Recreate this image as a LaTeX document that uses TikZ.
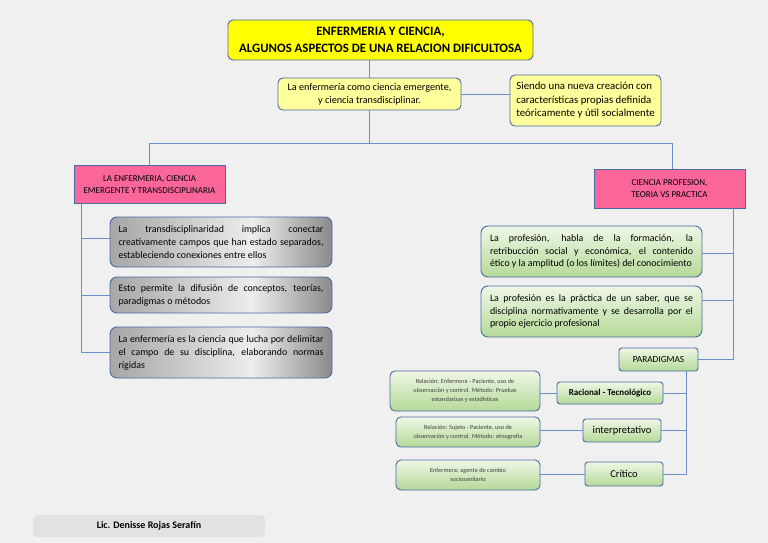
\documentclass[tikz,border=0pt]{standalone}
\usepackage{fontspec}
\setmainfont{Carlito}
\hyphenpenalty=10000
\exhyphenpenalty=10000
\definecolor{bgc}{HTML}{F0F0F0}
\definecolor{linec}{HTML}{6A90CC}
\definecolor{borderc}{HTML}{4A6AA5}
\definecolor{titlefill}{HTML}{FFFF00}
\definecolor{lightyellow}{HTML}{FFFF9C}
\definecolor{pinkc}{HTML}{FA6699}
\definecolor{greentop}{HTML}{EFF7E6}
\definecolor{greenbot}{HTML}{B4D998}
\definecolor{grayL}{HTML}{A6A6A6}
\definecolor{grayM}{HTML}{EDEDED}
\definecolor{grayR}{HTML}{8A8A8A}
\definecolor{footc}{HTML}{E2E2E2}
\definecolor{smalltext}{HTML}{404040}
\pgfdeclarehorizontalshading{grayshade}{100bp}{color(0bp)=(grayL); color(25bp)=(grayL); color(57bp)=(grayM); color(75bp)=(grayR); color(100bp)=(grayR)}
\tikzset{
  conn/.style={draw=linec, line width=0.9pt},
  basebox/.style={draw=borderc, line width=0.9pt, rounded corners=5pt, inner sep=0pt, align=center},
  titlebox/.style={basebox, fill=titlefill, font=\fontsize{12.8}{17}\selectfont\bfseries},
  ybox/.style={basebox, fill=lightyellow, font=\fontsize{10.2}{13}\selectfont},
  pinkbox/.style={draw=borderc, line width=0.9pt, fill=pinkc, inner sep=0pt, align=center, font=\fontsize{9}{12}\selectfont},
  graybox/.style={basebox, rounded corners=7pt, shading=grayshade, text width=205pt, align=justify, font=\fontsize{9.9}{13}\selectfont},
  greenbox/.style={basebox, rounded corners=7pt, top color=greentop, bottom color=greenbot, text width=203pt, align=justify, font=\fontsize{9.9}{12.5}\selectfont},
  smallbox/.style={basebox, rounded corners=5pt, top color=greentop, bottom color=greenbot, font=\fontsize{6.3}{9}\selectfont\color{smalltext}},
  parbox/.style={basebox, rounded corners=3pt, top color=greentop, bottom color=greenbot},
  footbox/.style={rounded corners=4pt, fill=footc, inner sep=0pt, font=\fontsize{10}{12}\selectfont\bfseries}
}
\begin{document}
\begin{tikzpicture}[x=1pt,y=-1pt]
\fill[bgc] (0,0) rectangle (768,543);
\useasboundingbox (0,0) rectangle (768,543);

\node[titlebox, minimum width=305pt, minimum height=40pt] (title) at (380.5,40) {ENFERMERIA Y CIENCIA,\\ALGUNOS ASPECTOS DE UNA RELACION DIFICULTOSA};
\node[ybox, minimum width=183pt, minimum height=32pt] (b2) at (369.5,94) {La enfermería como ciencia emergente,\\y ciencia transdisciplinar.};
\node[ybox, minimum width=151pt, minimum height=51pt, align=left, font=\fontsize{10.8}{13.5}\selectfont] (b3) at (585.5,100.5) {Siendo una nueva creación con\\características propias definida\\teóricamente y útil socialmente};

\node[pinkbox, minimum width=151pt, minimum height=38pt] (pl) at (149.5,184.5) {LA ENFERMERIA, CIENCIA\\EMERGENTE Y TRANSDISCIPLINARIA};
\node[pinkbox, minimum width=151pt, minimum height=39pt] (pr) at (669.5,188.5) {CIENCIA PROFESION,\\TEORIA VS PRACTICA};

\node[graybox, minimum width=222pt, minimum height=50pt] (l1) at (221,242) {La transdisciplinaridad implica conectar\linebreak creativamente campos que han estado separados,\linebreak estableciendo conexiones entre ellos};
\node[graybox, minimum width=222pt, minimum height=36pt] (l2) at (221,295) {Esto permite la difusión de conceptos, teorías,\linebreak paradigmas o métodos};
\node[graybox, minimum width=222pt, minimum height=51pt] (l3) at (221,352.5) {La enfermería es la ciencia que lucha por delimitar\linebreak el campo de su disciplina, elaborando normas\linebreak rígidas};

\node[greenbox, minimum width=221pt, minimum height=51pt] (g1) at (591.5,251.5) {La profesión, habla de la formación, la\linebreak retribucción social y económica, el contenido\linebreak ético y la amplitud (o los límites) del conocimiento};
\node[greenbox, minimum width=221pt, minimum height=51pt] (g2) at (591.5,311.5) {La profesión es la práctica de un saber, que se\linebreak disciplina normativamente y se desarrolla por el\linebreak propio ejercicio profesional};

\node[parbox, minimum width=79pt, minimum height=23pt, font=\fontsize{9.3}{11}\selectfont] (par) at (658.5,359.5) {PARADIGMAS};
\node[parbox, minimum width=106pt, minimum height=22pt, font=\fontsize{9}{11}\selectfont\bfseries] (rac) at (610,393) {Racional - Tecnológico};
\node[parbox, minimum width=78pt, minimum height=23pt, font=\fontsize{10.5}{12}\selectfont] (int) at (622,430.5) {interpretativo};
\node[parbox, minimum width=78pt, minimum height=24pt, font=\fontsize{10.5}{12}\selectfont] (cri) at (624,474) {Crítico};

\node[smallbox, minimum width=150pt, minimum height=40pt] (s1) at (465,391) {Relación: Enfermera - Paciente, uso de\\observación y control. Método: Pruebas\\estandarizas y estadísticas};
\node[smallbox, minimum width=144pt, minimum height=30pt] (s2) at (468,432) {Relación: Sujeto - Paciente, uso de\\observación y control. Método: etnografía};
\node[smallbox, minimum width=144pt, minimum height=30pt] (s3) at (468,475) {Enfermera: agente de cambio\\sociosanitario};

\node[footbox, minimum width=232pt, minimum height=22pt] (foot) at (149,526) {Lic. Denisse Rojas Serafín};

% connectors top
\draw[conn] (b2.north |- title.south) -- (b2.north);
\draw[conn] (b2.east) -- (b3.west |- b2.east);
\coordinate (busL) at (149.5,143);
\coordinate (busR) at (672,143);
\draw[conn] (b2.south) -- (b2.south |- busL);
\draw[conn] (pl.north) -- (busL) -- (busR) -- (busR |- pr.north);

% left branch
\coordinate (lv) at (81,203.5);
\draw[conn] (lv) |- (l3.west);
\draw[conn] (lv |- 0,238) -- (l1.west |- 0,238);
\draw[conn] (lv |- l2.west) -- (l2.west);

% right branch
\coordinate (rv) at (733,208);
\draw[conn] (rv) |- (par.east);
\draw[conn] (rv |- 0,253) -- (g1.east |- 0,253);
\draw[conn] (rv |- 0,300) -- (g2.east |- 0,300);

% paradigms
\coordinate (pv) at (686,371);
\draw[conn] (pv) |- (cri.east);
\draw[conn] (pv |- rac.east) -- (rac.east);
\draw[conn] (pv |- int.east) -- (int.east);
\draw[conn] (s1.east |- rac.west) -- (rac.west);
\draw[conn] (s2.east |- int.west) -- (int.west);
\draw[conn] (s3.east |- cri.west) -- (cri.west);
\end{tikzpicture}
\end{document}
